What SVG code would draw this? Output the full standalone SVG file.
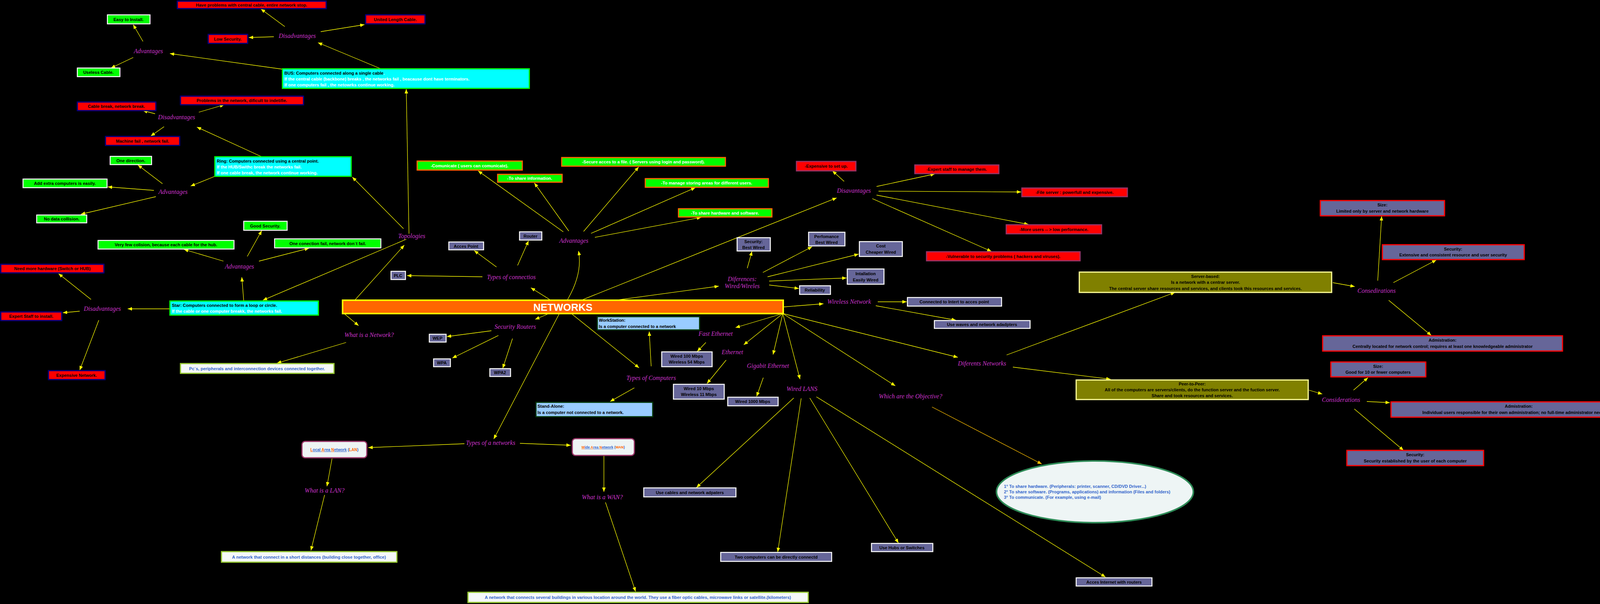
<svg xmlns="http://www.w3.org/2000/svg" width="4219" height="1545" viewBox="0 0 4219 1545">
<defs>
<marker id="a" markerUnits="userSpaceOnUse" markerWidth="11" markerHeight="9" refX="11" refY="4.5" orient="auto"><path d="M0,0 L11,4.5 L0,9 z" fill="#ffff00"/></marker>
<marker id="ao" markerUnits="userSpaceOnUse" markerWidth="11" markerHeight="9" refX="11" refY="4.5" orient="auto"><path d="M0,0 L11,4.5 L0,9 z" fill="#ffc000"/></marker>
<style>
.l{font:italic 16px "Liberation Serif",serif;fill:#cc33cc;text-anchor:middle}
.t{font:bold 11px "Liberation Sans",sans-serif;fill:#000;text-anchor:middle}
.tl{font:bold 11px "Liberation Sans",sans-serif;fill:#000}
.w{fill:#fff}
.rd{fill:#ff0000;stroke:#000080;stroke-width:3}
.gr{fill:#00ff00;stroke:#ffffff;stroke-width:2.5}
.go{fill:#00ff00;stroke:#ff6600;stroke-width:3}
.rp{fill:#ff0000;stroke:#993366;stroke-width:3}
.pu{fill:#666699;stroke:#ffffff;stroke-width:2.5}
.pr{fill:#666699;stroke:#ff0000;stroke-width:3}
.cy{fill:#00ffff;stroke:#00ff00;stroke-width:3}
.ol{fill:#808000;stroke:#ffff99;stroke-width:3}
.lb{fill:#99ccff;stroke:#003300;stroke-width:3}
.df{fill:#f5f8f8;stroke:#99cc33;stroke-width:3}
.rr{fill:#eef4f4;stroke:#993366;stroke-width:3}
.b{font:bold 11px "Liberation Sans",sans-serif;fill:#3366cc}
.c line,.c path{stroke:#ffff00;stroke-width:1.3;fill:none;marker-end:url(#a)}
</style>
</defs>
<rect width="4219" height="1545" fill="#000"/>
<g class="c">
<line x1="729" y1="68" x2="668" y2="23"/><line x1="821" y1="81" x2="933" y2="63"/><line x1="701" y1="94" x2="637" y2="96"/>
<line x1="975" y1="176" x2="814" y2="109"/><line x1="723" y1="177" x2="435" y2="137"/><line x1="366" y1="106" x2="341" y2="63"/>
<line x1="341" y1="147" x2="284" y2="174"/><line x1="1047" y1="598" x2="1040" y2="228"/><line x1="509" y1="287" x2="574" y2="268"/>
<line x1="397" y1="291" x2="366" y2="283"/><line x1="420" y1="324" x2="386" y2="348"/><line x1="670" y1="401" x2="504" y2="325"/>
<line x1="550" y1="451" x2="488" y2="476"/><line x1="416" y1="470" x2="353" y2="422"/><line x1="394" y1="487" x2="276" y2="478"/>
<line x1="399" y1="503" x2="207" y2="548"/><line x1="1033" y1="585" x2="902" y2="453"/><line x1="1040" y1="612" x2="673" y2="768"/>
<line x1="909" y1="767" x2="1035" y2="627"/><line x1="624" y1="770" x2="619" y2="709"/><line x1="633" y1="656" x2="670" y2="590"/>
<line x1="572" y1="668" x2="471" y2="638"/><line x1="663" y1="668" x2="791" y2="635"/><line x1="435" y1="790" x2="327" y2="790"/>
<line x1="233" y1="766" x2="150" y2="700"/><line x1="204" y1="796" x2="161" y2="800"/><line x1="253" y1="819" x2="204" y2="947"/>
<line x1="882" y1="803" x2="918" y2="833"/><line x1="886" y1="876" x2="709" y2="929"/>
<line x1="1442" y1="593" x2="1224" y2="437"/><line x1="1456" y1="591" x2="1368" y2="468"/><line x1="1494" y1="592" x2="1635" y2="427"/>
<line x1="1513" y1="597" x2="1780" y2="480"/><line x1="1523" y1="607" x2="1795" y2="556"/>
<path d="M1452,768 Q1492,700 1481,642"/>
<line x1="1410" y1="768" x2="1359" y2="736"/><line x1="1235" y1="708" x2="1042" y2="705"/><line x1="1271" y1="683" x2="1214" y2="641"/>
<line x1="1325" y1="679" x2="1353" y2="616"/><line x1="1488" y1="768" x2="2142" y2="506"/><line x1="1575" y1="768" x2="1840" y2="732"/>
<line x1="1913" y1="686" x2="1925" y2="643"/><line x1="2161" y1="464" x2="2131" y2="437"/><line x1="2244" y1="477" x2="2393" y2="445"/>
<line x1="2249" y1="489" x2="2614" y2="491"/><line x1="2244" y1="499" x2="2633" y2="574"/><line x1="2233" y1="508" x2="2538" y2="643"/>
<line x1="1953" y1="697" x2="2079" y2="631"/><line x1="1965" y1="708" x2="2198" y2="650"/><line x1="1969" y1="719" x2="2167" y2="711"/>
<line x1="1969" y1="729" x2="2045" y2="738"/><line x1="2007" y1="785" x2="2108" y2="777"/><line x1="2247" y1="772" x2="2321" y2="772"/>
<line x1="2242" y1="782" x2="2447" y2="819"/><line x1="3412" y1="723" x2="3468" y2="733"/><line x1="3527" y1="718" x2="3537" y2="553"/>
<line x1="3567" y1="723" x2="3677" y2="665"/><line x1="3555" y1="768" x2="3664" y2="858"/><line x1="2577" y1="908" x2="3008" y2="748"/>
<line x1="2593" y1="939" x2="2843" y2="970"/><line x1="3351" y1="998" x2="3385" y2="1008"/><line x1="3465" y1="998" x2="3502" y2="966"/>
<line x1="3499" y1="1027" x2="3558" y2="1030"/><line x1="3467" y1="1046" x2="3593" y2="1152"/>
<line x1="1401" y1="804" x2="1370" y2="817"/><line x1="1258" y1="846" x2="1144" y2="861"/><line x1="1276" y1="858" x2="1158" y2="916"/>
<line x1="1312" y1="866" x2="1287" y2="942"/><line x1="1432" y1="802" x2="1264" y2="1123"/><line x1="1465" y1="804" x2="1636" y2="941"/>
<line x1="1667" y1="937" x2="1662" y2="848"/><line x1="1624" y1="992" x2="1562" y2="1027"/><line x1="2004" y1="802" x2="1883" y2="838"/>
<line x1="1807" y1="876" x2="1785" y2="899"/><line x1="2004" y1="802" x2="1904" y2="882"/><line x1="1859" y1="921" x2="1810" y2="981"/>
<line x1="2004" y1="802" x2="1979" y2="907"/><line x1="1954" y1="966" x2="1937" y2="1014"/><line x1="2004" y1="802" x2="2048" y2="970"/>
<line x1="1189" y1="1135" x2="943" y2="1145"/><line x1="1331" y1="1134" x2="1461" y2="1139"/><line x1="850" y1="1173" x2="837" y2="1244"/>
<line x1="831" y1="1266" x2="796" y2="1408"/><line x1="1546" y1="1166" x2="1546" y2="1258"/><line x1="1550" y1="1285" x2="1627" y2="1513"/>
<line x1="2032" y1="1018" x2="1783" y2="1247"/><line x1="2051" y1="1019" x2="1991" y2="1412"/><line x1="2073" y1="1018" x2="2300" y2="1389"/>
<line x1="2090" y1="1015" x2="2830" y2="1476"/><line x1="2004" y1="802" x2="2292" y2="987"/><line x1="2004" y1="802" x2="2452" y2="914"/>
<line x1="2386" y1="1041" x2="2667" y2="1187" style="stroke:#ffc000;marker-end:url(#ao)"/>
</g>

<g id="networks"><rect x="877" y="768" width="1128" height="34" fill="#ff6600" stroke="#ffff00" stroke-width="4"/><text x="1441" y="795" style="font:bold 26px 'Liberation Sans',sans-serif;fill:#fff;text-anchor:middle">NETWORKS</text></g>

<g id="bus"><rect class="cy" x="723" y="176" width="632" height="50"/><text class="tl" x="728" y="191">BUS: Computers connected along a single cable<tspan class="w">.</tspan></text><text class="tl w" x="728" y="206">If the central cable (backbone) breaks , the networks fail , beacause dont have terminators.</text><text class="tl w" x="728" y="221">If one computers fail , the netowrks continue working.</text></g>
<g id="ring"><rect class="cy" x="550" y="401" width="349" height="50"/><text class="tl" x="555" y="416">Ring: Computers connected using a central point.</text><text class="tl w" x="555" y="431">If the HUB/Swithc break the networks fail.</text><text class="tl w" x="555" y="446">If one cable break, the network continue working.</text></g>
<g id="star"><rect class="cy" x="435" y="770" width="380" height="36"/><text class="tl" x="440" y="785">Star: Computers connected to form a loop or circle.</text><text class="tl w" x="440" y="800">If the cable or one computer breakk, the networks fail.</text></g>

<g id="bus-dis-1"><rect class="rd" x="454" y="3" width="381" height="19"/><text class="t" x="644" y="17">Have problems with central cable, entire network stop.</text></g>
<g id="bus-dis-2"><rect class="rd" x="936" y="38" width="152" height="23"/><text class="t" x="1012" y="54">United Length Cable.</text></g>
<g id="bus-dis-3"><rect class="rd" x="533" y="88" width="101" height="23"/><text class="t" x="583" y="104">Low Security.</text></g>
<g id="bus-adv-1"><rect class="gr" x="275" y="38" width="109" height="23"/><text class="t" x="329" y="54">Easy to Install.</text></g>
<g id="bus-adv-2"><rect class="gr" x="198" y="174" width="109" height="22"/><text class="t" x="252" y="189">Useless Cable.</text></g>
<g id="ring-dis-1"><rect class="rd" x="462" y="246" width="315" height="22"/><text class="t" x="619" y="261">Problems in the network, dificult to indetifie.</text></g>
<g id="ring-dis-2"><rect class="rd" x="198" y="261" width="201" height="22"/><text class="t" x="298" y="276">Cable break, network break.</text></g>
<g id="ring-dis-3"><rect class="rd" x="270" y="349" width="190" height="23"/><text class="t" x="365" y="365">Machine fail , network fail.</text></g>
<g id="ring-adv-1"><rect class="gr" x="282" y="400" width="106" height="21"/><text class="t" x="335" y="415">One direction.</text></g>
<g id="ring-adv-2"><rect class="gr" x="59" y="458" width="215" height="22"/><text class="t" x="166" y="473">Add extra computers is easily.</text></g>
<g id="ring-adv-3"><rect class="gr" x="94" y="550" width="128" height="20"/><text class="t" x="158" y="564">No data collision.</text></g>
<g id="star-adv-1"><rect class="gr" x="624" y="566" width="111" height="23"/><text class="t" x="679" y="582">Good Security.</text></g>
<g id="star-adv-2"><rect class="gr" x="251" y="615" width="348" height="22"/><text class="t" x="425" y="630">Very few colision, because each cable for the hub.</text></g>
<g id="star-adv-3"><rect class="gr" x="703" y="611" width="272" height="23"/><text class="t" x="839" y="627">One conection fail, network don´t fail.</text></g>
<g id="star-dis-1"><rect class="rd" x="2" y="676" width="264" height="22"/><text class="t" x="134" y="691">Need more hardware (Switch or HUB)</text></g>
<g id="star-dis-2"><rect class="rd" x="2" y="798" width="156" height="22"/><text class="t" x="80" y="813">Expert Staff to install.</text></g>
<g id="star-dis-3"><rect class="rd" x="124" y="948" width="145" height="23"/><text class="t" x="196" y="964">Expensive Network.</text></g>
<g id="pcs"><rect class="df" x="462" y="930" width="393" height="25"/><text class="b" x="658" y="947" text-anchor="middle">Pc´s, peripherals and interconnection devices connected together.</text></g>

<g id="lbl"><text class="l" x="380" y="136">Advantages</text><text class="l" x="761" y="97">Disadvantages</text><text class="l" x="452" y="305">Disadvantages</text><text class="l" x="443" y="496">Advantages</text><text class="l" x="613" y="687">Advantages</text><text class="l" x="262" y="795">Disadvantages</text><text class="l" x="945" y="862">What is a Network?</text><text class="l" x="1054" y="609">Topologies</text><text class="l" x="1469" y="621">Advantages</text><text class="l" x="1309" y="714">Types of connectios</text><text class="l" x="1900" y="719">Diferences:</text><text class="l" x="1900" y="737">Wired/Wireles</text><text class="l" x="2186" y="493">Disavantages</text><text class="l" x="2174" y="777">Wireless Network</text><text class="l" x="3524" y="749">Consedirations</text><text class="l" x="3433" y="1028">Considerations</text><text class="l" x="1319" y="841">Security Routers</text><text class="l" x="1832" y="859">Fast Ethernet</text><text class="l" x="1875" y="906">Ethernet</text><text class="l" x="1966" y="941">Gigabit Ethernet</text><text class="l" x="1667" y="972">Types of Computers</text><text class="l" x="2053" y="1000">Wired LANS</text><text class="l" x="1256" y="1138">Types of a networks</text><text class="l" x="831" y="1260">What is a LAN?</text><text class="l" x="1542" y="1277">What is a WAN?</text><text class="l" x="2331" y="1019">Which are the Objective?</text><text class="l" x="2514" y="935">Diferents Networks</text></g>

<g id="adv-1"><rect class="go" x="1068" y="412" width="269" height="23"/><text class="t w" x="1202" y="428">-Comunicate ( users can comunicate).</text></g>
<g id="adv-2"><rect class="go" x="1274" y="446" width="165" height="20"/><text class="t w" x="1356" y="460">-To share information.</text></g>
<g id="adv-3"><rect class="go" x="1438" y="403" width="419" height="22"/><text class="t w" x="1647" y="418">-Secure acces to a file. ( Servers using login and password).</text></g>
<g id="adv-4"><rect class="go" x="1652" y="457" width="315" height="22"/><text class="t w" x="1809" y="472">-To manage storing areas for different users.</text></g>
<g id="adv-5"><rect class="go" x="1737" y="534" width="239" height="21"/><text class="t w" x="1856" y="549">-To share hardware and software.</text></g>
<g id="router"><rect class="pu" x="1330" y="593" width="57" height="21"/><text class="t" x="1358" y="608">Router</text></g>
<g id="ap"><rect class="pu" x="1149" y="619" width="89" height="20"/><text class="t" x="1193" y="634">Acces Point</text></g>
<g id="plc"><rect class="pu" x="1001" y="694" width="37" height="21"/><text class="t" x="1019" y="709">PLC</text></g>
<g id="dif-1"><rect class="pu" x="1887" y="608" width="85" height="34"/><text class="t" x="1929" y="622">Security:</text><text class="t" x="1929" y="637">Best Wired</text></g>
<g id="dif-2"><rect class="pu" x="2070" y="594" width="93" height="35"/><text class="t" x="2116" y="609">Perfomance</text><text class="t" x="2116" y="624">Best Wired</text></g>
<g id="dif-3"><rect class="pu" x="2200" y="618" width="110" height="38"/><text class="t" x="2255" y="633">Cost</text><text class="t" x="2255" y="649">Cheaper Wired</text></g>
<g id="dif-4"><rect class="pu" x="2169" y="688" width="94" height="39"/><text class="t" x="2216" y="704">Intallation</text><text class="t" x="2216" y="720">Easily Wired</text></g>
<g id="dif-5"><rect class="pu" x="2047" y="731" width="79" height="22"/><text class="t" x="2086" y="746">Reliability</text></g>
<g id="dis-1"><rect class="rp" x="2039" y="413" width="152" height="24"/><text class="t" x="2115" y="429">-Expensive to set up.</text></g>
<g id="dis-2"><rect class="rp" x="2342" y="422" width="215" height="22"/><text class="t" x="2449" y="437">-Expert staff to manage them.</text></g>
<g id="dis-3"><rect class="rp" x="2616" y="481" width="270" height="22"/><text class="t" x="2751" y="496">-File server : powerfull and expensive.</text></g>
<g id="dis-4"><rect class="rp" x="2576" y="575" width="244" height="23"/><text class="t" x="2698" y="591">-More users -- &gt; low performance.</text></g>
<g id="dis-5"><rect class="rp" x="2372" y="644" width="393" height="23"/><text class="t" x="2568" y="660">-Vulnerable to security problems ( hackers and viruses).</text></g>
<g id="wl-1"><rect class="pu" x="2323" y="761" width="241" height="22"/><text class="t" x="2443" y="776">Connected to Intert to acces point</text></g>
<g id="wl-2"><rect class="pu" x="2392" y="820" width="245" height="20"/><text class="t" x="2514" y="834">Use waves and  network adadpters</text></g>

<g id="server"><rect class="ol" x="2763" y="696" width="646" height="52"/><text class="t" x="3086" y="711">Server-based:</text><text class="t" x="3086" y="726">Is a network with a centrar server.</text><text class="t" x="3086" y="742">The central server share resources and services, and clients took this resources and services.</text></g>
<g id="s-size"><rect class="pr" x="3380" y="513" width="318" height="39"/><text class="t" x="3539" y="528">Size:</text><text class="t" x="3539" y="544">Limited only by server and network hardware</text></g>
<g id="s-sec"><rect class="pr" x="3539" y="626" width="363" height="38"/><text class="t" x="3720" y="641">Security:</text><text class="t" x="3720" y="656">Extensive and consistent resource and user security</text></g>
<g id="s-adm"><rect class="pr" x="3386" y="859" width="614" height="39"/><text class="t" x="3693" y="874">Admistration:</text><text class="t" x="3693" y="890">Centrally located for network control; requires at least one knowledgeable administrator</text></g>
<g id="p2p"><rect class="ol" x="2755" y="972" width="594" height="50"/><text class="t" x="3052" y="986">Peer-to-Peer:</text><text class="t" x="3052" y="1001">All of the computers are servers/clients, do the function server and the fuction server.</text><text class="t" x="3052" y="1016">Share and took resources and services.</text></g>
<g id="p-size"><rect class="pr" x="3407" y="926" width="243" height="38"/><text class="t" x="3528" y="941">Size:</text><text class="t" x="3528" y="956">Good for 10 or fewer computers</text></g>
<g id="p-adm"><rect class="pr" x="3561" y="1028" width="654" height="39"/><text class="t" x="3888" y="1043">Admistration:</text><text class="t" x="3888" y="1059">Individual users responsible for their own administration; no full-time administrator necessary</text></g>
<g id="p-sec"><rect class="pr" x="3448" y="1152" width="350" height="39"/><text class="t" x="3623" y="1167">Security:</text><text class="t" x="3623" y="1183">Security established by the user of each computer</text></g>

<g id="objective"><ellipse cx="2803" cy="1258" rx="252" ry="79" fill="#eef5f5" stroke="#2e8b57" stroke-width="4"/><text class="b" x="2570" y="1248">1° To share hardware. (Peripherals: printer, scanner, CD/DVD Driver...)</text><text class="b" x="2570" y="1262">2° To share software. (Programs, applications) and information (Files and folders)</text><text class="b" x="2570" y="1276">3° To communicate. (For example, using e-mail)</text></g>

<g id="wep"><rect class="pu" x="1099" y="855" width="43" height="20"/><text class="t" x="1120" y="869">WEP</text></g>
<g id="wpa"><rect class="pu" x="1110" y="918" width="43" height="20"/><text class="t" x="1131" y="932">WPA</text></g>
<g id="wpa2"><rect class="pu" x="1254" y="943" width="53" height="20"/><text class="t" x="1280" y="957">WPA2</text></g>
<g id="workstation"><rect class="lb" x="1529" y="810" width="262" height="34"/><text class="tl" x="1533" y="823">WorkStation:</text><text class="tl" x="1533" y="839">Is a computer connected to a network</text></g>
<g id="standalone"><rect class="lb" x="1372" y="1029" width="299" height="37"/><text class="tl" x="1376" y="1043">Stand-Alone:</text><text class="tl" x="1376" y="1059">Is a computer not connected to a network.</text></g>
<g id="w100"><rect class="pu" x="1694" y="900" width="129" height="38"/><text class="t" x="1758" y="915">Wired 100 Mbps</text><text class="t" x="1758" y="930">Wireless 54 Mbps</text></g>
<g id="w10"><rect class="pu" x="1724" y="983" width="130" height="38"/><text class="t" x="1789" y="998">Wired 10 Mbps</text><text class="t" x="1789" y="1013">Wireless 11 Mbps</text></g>
<g id="w1000"><rect class="pu" x="1863" y="1016" width="129" height="22"/><text class="t" x="1927" y="1031">Wired 1000 Mbps</text></g>
<g id="lan"><rect class="rr" x="773" y="1129" width="166" height="42" rx="8"/><text x="856" y="1154" style="font:bold 10px 'Liberation Sans',sans-serif;text-anchor:middle;fill:#3366cc"><tspan fill="#ff6600" text-decoration="underline">L</tspan><tspan text-decoration="underline">ocal </tspan><tspan fill="#ff6600" text-decoration="underline">A</tspan><tspan text-decoration="underline">rea </tspan><tspan fill="#ff6600" text-decoration="underline">N</tspan><tspan text-decoration="underline">etwork</tspan> (<tspan fill="#ff6600">LAN</tspan>)</text></g>
<g id="wan"><rect class="rr" x="1465" y="1122" width="159" height="43" rx="8"/><text x="1544" y="1147" style="font:bold 9px 'Liberation Sans',sans-serif;text-anchor:middle;fill:#3366cc"><tspan fill="#ff6600" text-decoration="underline">W</tspan><tspan text-decoration="underline">ide </tspan><tspan fill="#ff6600" text-decoration="underline">A</tspan><tspan text-decoration="underline">rea </tspan><tspan fill="#ff6600" text-decoration="underline">N</tspan><tspan text-decoration="underline">etwork</tspan> (<tspan fill="#ff6600">WAN</tspan>)</text></g>
<g id="landef"><rect class="df" x="567" y="1411" width="449" height="27"/><text class="b" x="791" y="1429" text-anchor="middle">A network that connect  in a short distances (building close together, office)</text></g>
<g id="wandef"><rect class="df" x="1198" y="1515" width="871" height="26"/><text class="b" x="1633" y="1532" text-anchor="middle">A network that connects several buildings in various location around the world. They use a fiber optic cables, microwave links or satellite.(kilometers)</text></g>
<g id="wl-cables"><rect class="pu" x="1648" y="1248" width="236" height="23"/><text class="t" x="1766" y="1264">Use cables and network adpaters</text></g>
<g id="wl-two"><rect class="pu" x="1845" y="1413" width="284" height="23"/><text class="t" x="1987" y="1429">Two computers can be directly connectd</text></g>
<g id="wl-hubs"><rect class="pu" x="2231" y="1390" width="157" height="21"/><text class="t" x="2309" y="1405">Use Hubs or Switches</text></g>
<g id="wl-routers"><rect class="pu" x="2755" y="1478" width="194" height="21"/><text class="t" x="2852" y="1493">Acces Internet with routers</text></g>
</svg>
